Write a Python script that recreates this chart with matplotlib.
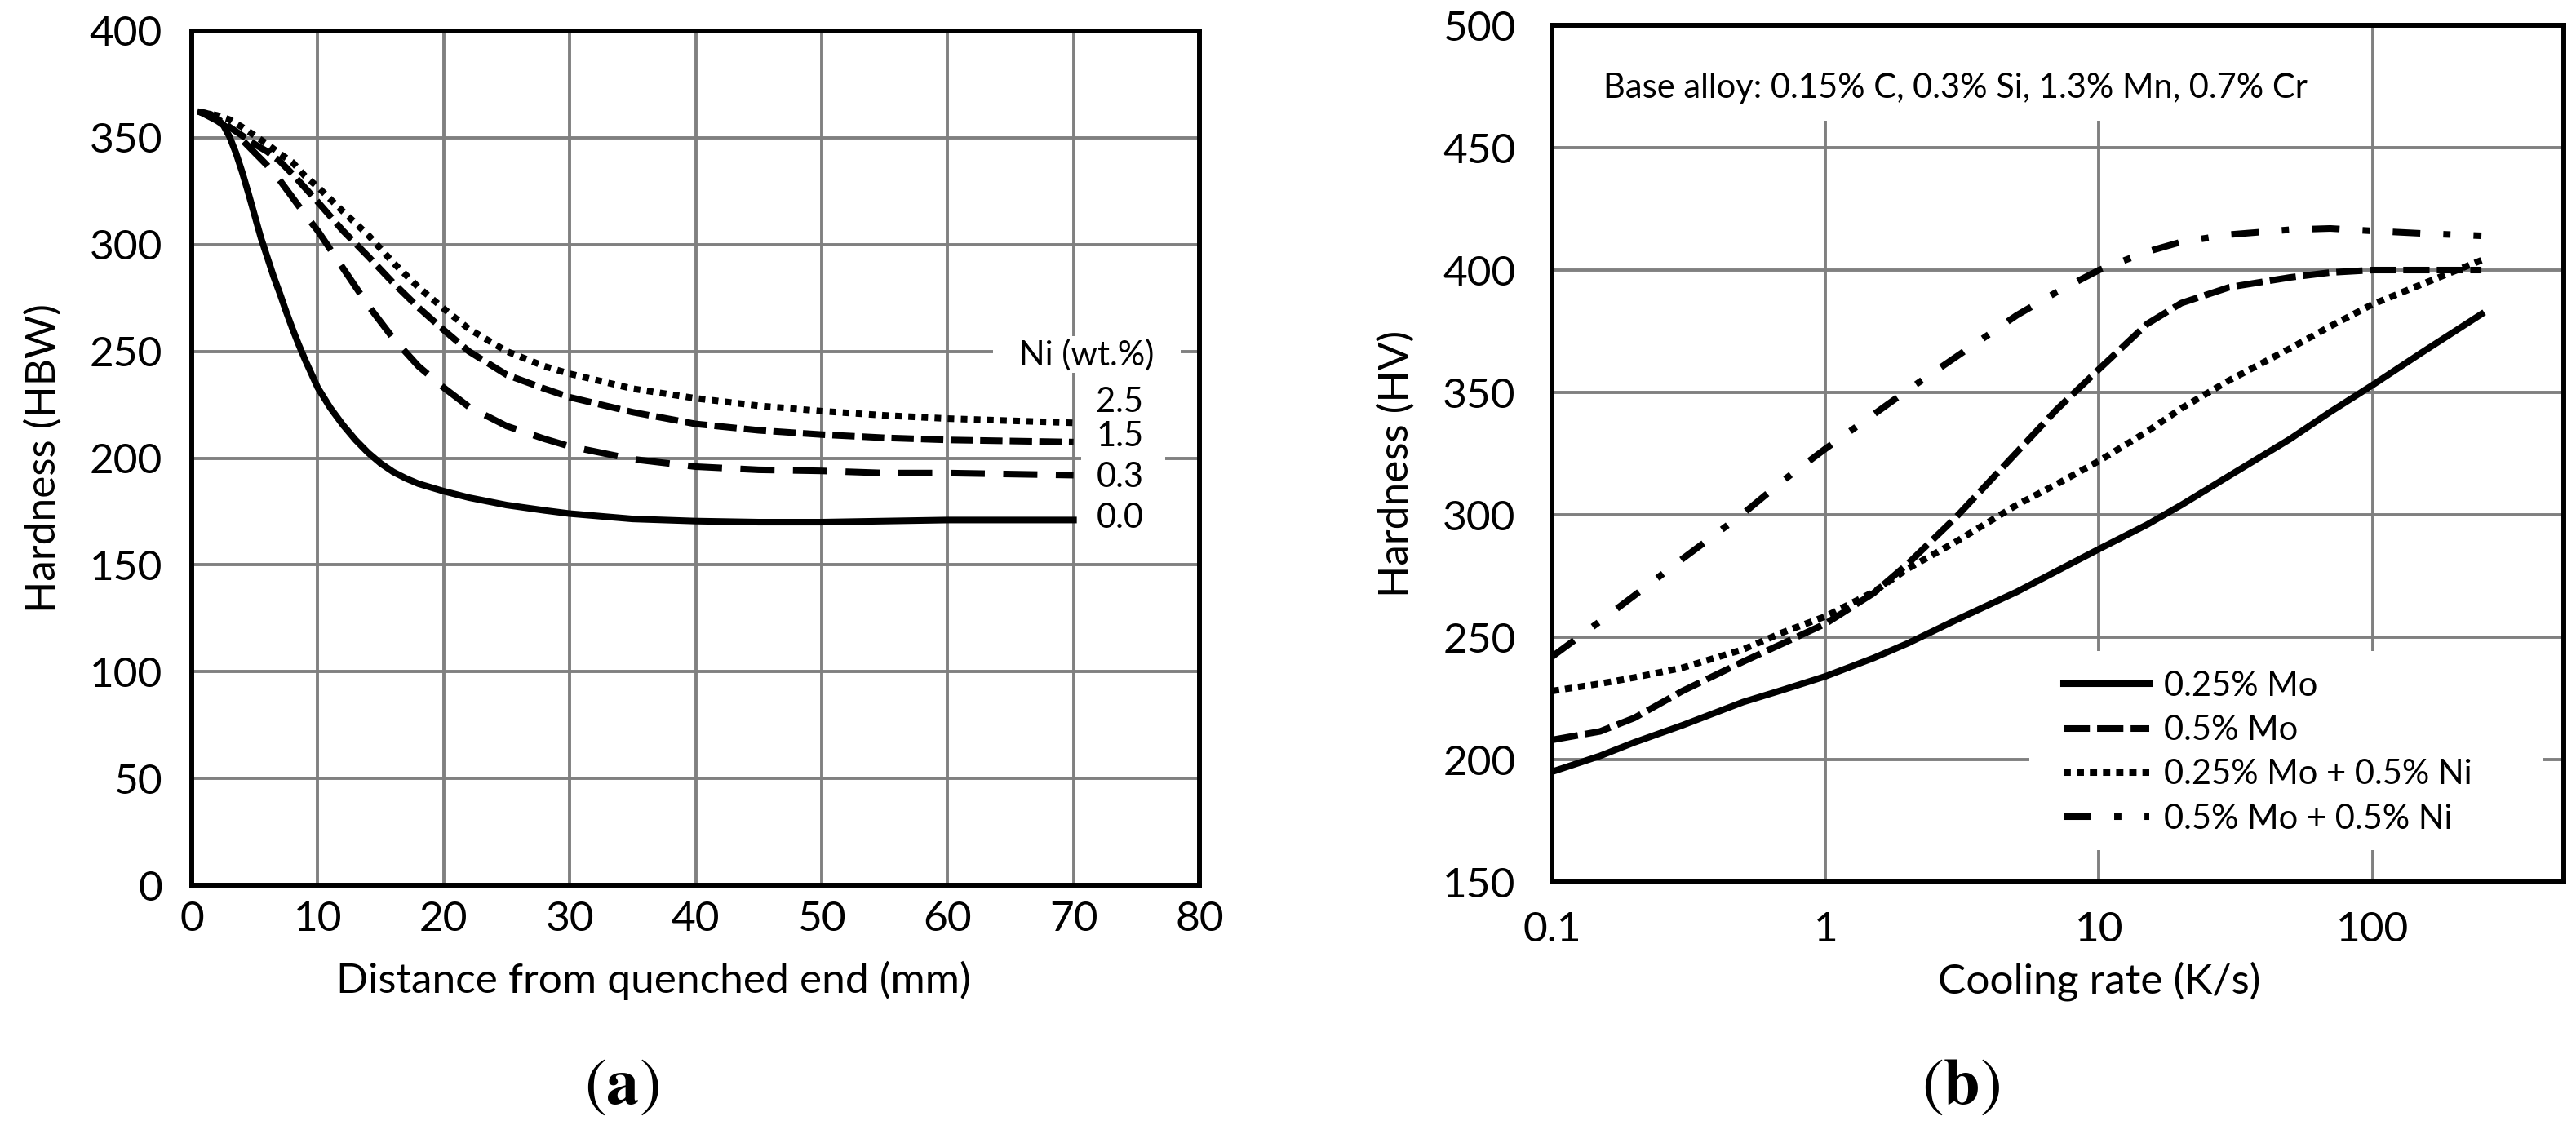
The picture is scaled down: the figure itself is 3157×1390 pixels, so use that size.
import matplotlib
matplotlib.use("Agg")
import matplotlib.pyplot as plt
from matplotlib.patches import Rectangle

plt.rcParams["font.family"] = ["Lato", "DejaVu Sans"]
plt.rcParams["mathtext.fontset"] = "stix"

# ---- (a) Jominy curves, hardness vs distance ----
dist_00 = [0.7, 1.5, 2, 2.5, 3, 3.5, 4, 4.5, 5, 5.5, 6, 6.5, 7, 7.5, 8, 8.5, 9,
           10, 11, 12, 13, 14, 15, 16, 17, 18, 20, 22, 25, 28, 30, 35, 40, 45,
           50, 55, 60, 65, 70]
ni_00 = [362, 361, 359, 356, 350.5, 343, 334, 324, 313.5, 303, 294, 285, 277,
         268.5, 260.5, 253, 246, 233, 223.5, 215.5, 208.5, 202.5, 197.5, 193.5,
         190.5, 188, 184.5, 181.5, 178, 175.5, 174, 171.5, 170.5, 170, 170,
         170.5, 171, 171, 171]
dist = [0.7, 2, 3, 4, 5, 6, 7, 8, 9, 10, 12, 14, 16, 18, 20, 22, 25, 28, 30,
        35, 40, 45, 50, 55, 60, 65, 70]
ni_03 = [362, 358, 354, 349, 343, 337, 330, 322, 314, 306.5, 289, 271.5, 256,
         243, 233, 224, 215, 209, 205.5, 199.5, 196, 194.5, 194, 193, 193,
         192.5, 192]
ni_15 = [362, 359, 355, 351, 347, 343.5, 339, 333, 326.5, 320, 306.5, 294.5,
         282, 270.5, 260, 250, 239, 232.5, 228.5, 221.5, 216, 213, 211, 209.5,
         208.5, 208, 207.5]
ni_25 = [362, 360.5, 358.5, 355, 351, 347, 342.5, 338.5, 332, 327, 315.5,
         304.5, 291.5, 280, 270, 260.5, 250, 243, 239.5, 232.5, 228, 224.5,
         222, 220, 218.5, 217.5, 216.5]
ni_labels = ["2.5", "1.5", "0.3", "0.0"]
ni_label_y = [226, 210, 191, 172]

# ---- (b) hardness vs cooling rate ----
rate = [0.1, 0.15, 0.2, 0.3, 0.5, 0.7, 1, 1.5, 2, 3, 5, 7, 10, 15, 20, 30, 50,
        70, 100, 150, 250]
mo025 = [195, 201.5, 207, 214, 223.5, 228.5, 234, 241.5, 247.5, 257, 268.5,
         277, 286, 296, 304, 316, 331, 342, 353, 366, 382]
mo05 = [208, 211.5, 217, 228, 240, 247.5, 255.5, 268, 280, 299, 325.5, 343,
        359.5, 378, 386.5, 393, 397, 399, 400, 400, 400]
mo025_ni = [228, 231, 233.5, 237.5, 245, 252, 258.5, 268.5, 278, 289, 304,
            312.5, 322, 334, 343.5, 355, 368, 377, 386, 394, 404]
mo05_ni = [242, 256.5, 267, 282, 300.5, 314, 327, 341, 351, 364.5, 381.5,
           391, 400, 407.5, 411.5, 414.5, 416.5, 417, 416, 415, 414]
legend_labels = ["0.25% Mo", "0.5% Mo", "0.25% Mo + 0.5% Ni", "0.5% Mo + 0.5% Ni"]

W, H = 3157, 1390
fig = plt.figure(figsize=(W / 100, H / 100), dpi=100)

TICK_FS = 37
SMALL_FS = 30
LW = 5.8
GRID = dict(color="#808080", linewidth=2.8)


def frame(ax):
    ax.set_axisbelow(True)
    ax.grid(True, **GRID)
    for s in ax.spines.values():
        s.set_linewidth(4.3)
        s.set_color("black")
    ax.tick_params(length=0, labelsize=TICK_FS)


# left panel
ax1 = fig.add_axes([235 / W, 1 - 1085 / H, 1235 / W, 1047 / H])
frame(ax1)
ax1.tick_params(axis="y", pad=26)
ax1.tick_params(axis="x", pad=14)
ax1.plot(dist_00, ni_00, color="black", lw=LW, zorder=3)
ax1.plot(dist, ni_03, color="black", lw=LW, linestyle=(0, (5.2, 2.8)), zorder=3)
ax1.plot(dist, ni_15, color="black", lw=LW, linestyle=(0, (3.4, 1.1)), zorder=3)
ax1.plot(dist, ni_25, color="black", lw=LW, linestyle=(0, (1.0, 1.0)), zorder=3)
ax1.set_xlim(0, 80)
ax1.set_ylim(0, 400)
ax1.set_xticks(range(0, 81, 10))
ax1.set_yticks(range(0, 401, 50))

# white boxes behind the inline labels
ax1.add_patch(Rectangle((63.6, 240), 14.9, 17, facecolor="white",
                        edgecolor="none", zorder=1))
ax1.add_patch(Rectangle((70.6, 165), 6.7, 68, facecolor="white",
                        edgecolor="none", zorder=1))
ax1.text(76.4, 248.3, "Ni (wt.%)", fontsize=SMALL_FS, ha="right", va="center",
         zorder=4)
for lab, yy in zip(ni_labels, ni_label_y):
    ax1.text(71.8, yy, lab, fontsize=SMALL_FS, ha="left", va="center", zorder=4)

ax1.set_xlabel("Distance from quenched end (mm)", fontsize=TICK_FS)
ax1.set_ylabel("Hardness (HBW)", fontsize=TICK_FS)
ax1.xaxis.set_label_coords(0.458, -0.089)
ax1.yaxis.set_label_coords(-0.128, 0.5)

# right panel
ax2 = fig.add_axes([1902 / W, 1 - 1081 / H, 1240 / W, 1050 / H])
frame(ax2)
ax2.tick_params(axis="y", pad=32)
ax2.tick_params(axis="x", pad=26)
ax2.set_xscale("log")
ax2.plot(rate, mo025, color="black", lw=LW, label=legend_labels[0], zorder=3)
ax2.plot(rate, mo05, color="black", lw=LW, linestyle=(0, (4.0, 1.1)),
         label=legend_labels[1], zorder=3)
ax2.plot(rate, mo025_ni, color="black", lw=LW, linestyle=(0, (1.1, 0.9)),
         label=legend_labels[2], zorder=3)
ax2.plot(rate, mo05_ni, color="black", lw=LW, linestyle=(0, (4.2, 3.5, 1.1, 3.5)),
         label=legend_labels[3], zorder=3)
ax2.set_xlim(0.1, 500)
ax2.set_ylim(150, 500)
ax2.set_xticks([0.1, 1, 10, 100])
ax2.set_xticklabels(["0.1", "1", "10", "100"])
ax2.minorticks_off()
ax2.set_yticks(range(150, 501, 50))

ax2.add_patch(Rectangle((0, 0.8886), 0.766, 0.1114, transform=ax2.transAxes,
                        facecolor="white", edgecolor="none", zorder=1))
ax2.text(0.0508, 0.927, "Base alloy: 0.15% C, 0.3% Si, 1.3% Mn, 0.7% Cr",
         transform=ax2.transAxes, fontsize=SMALL_FS, ha="left", va="center",
         zorder=4)

# legend with a borderless white patch behind it
ax2.add_patch(Rectangle((0.472, 0.037), 0.507, 0.233, transform=ax2.transAxes,
                        facecolor="white", edgecolor="none", zorder=1))
leg = ax2.legend(loc="upper left", bbox_to_anchor=(0.5056, 0.2467),
                 fontsize=SMALL_FS, frameon=False,
                 handlelength=2.52, handletextpad=0.43, labelspacing=0.39,
                 borderpad=0, borderaxespad=0)
leg.set_zorder(5)

ax2.set_xlabel("Cooling rate (K/s)", fontsize=TICK_FS)
ax2.set_ylabel("Hardness (HV)", fontsize=TICK_FS)
ax2.xaxis.set_label_coords(0.541, -0.093)
ax2.yaxis.set_label_coords(-0.1347, 0.4886)

# panel letters
fig.text(762 / W, 1 - 1332 / H, r"$(\mathbf{a})$", fontsize=58,
         ha="center", va="center")
fig.text(2403 / W, 1 - 1332 / H, r"$(\mathbf{b})$", fontsize=58,
         ha="center", va="center")

fig.savefig("out.png", dpi=100, facecolor="white")
